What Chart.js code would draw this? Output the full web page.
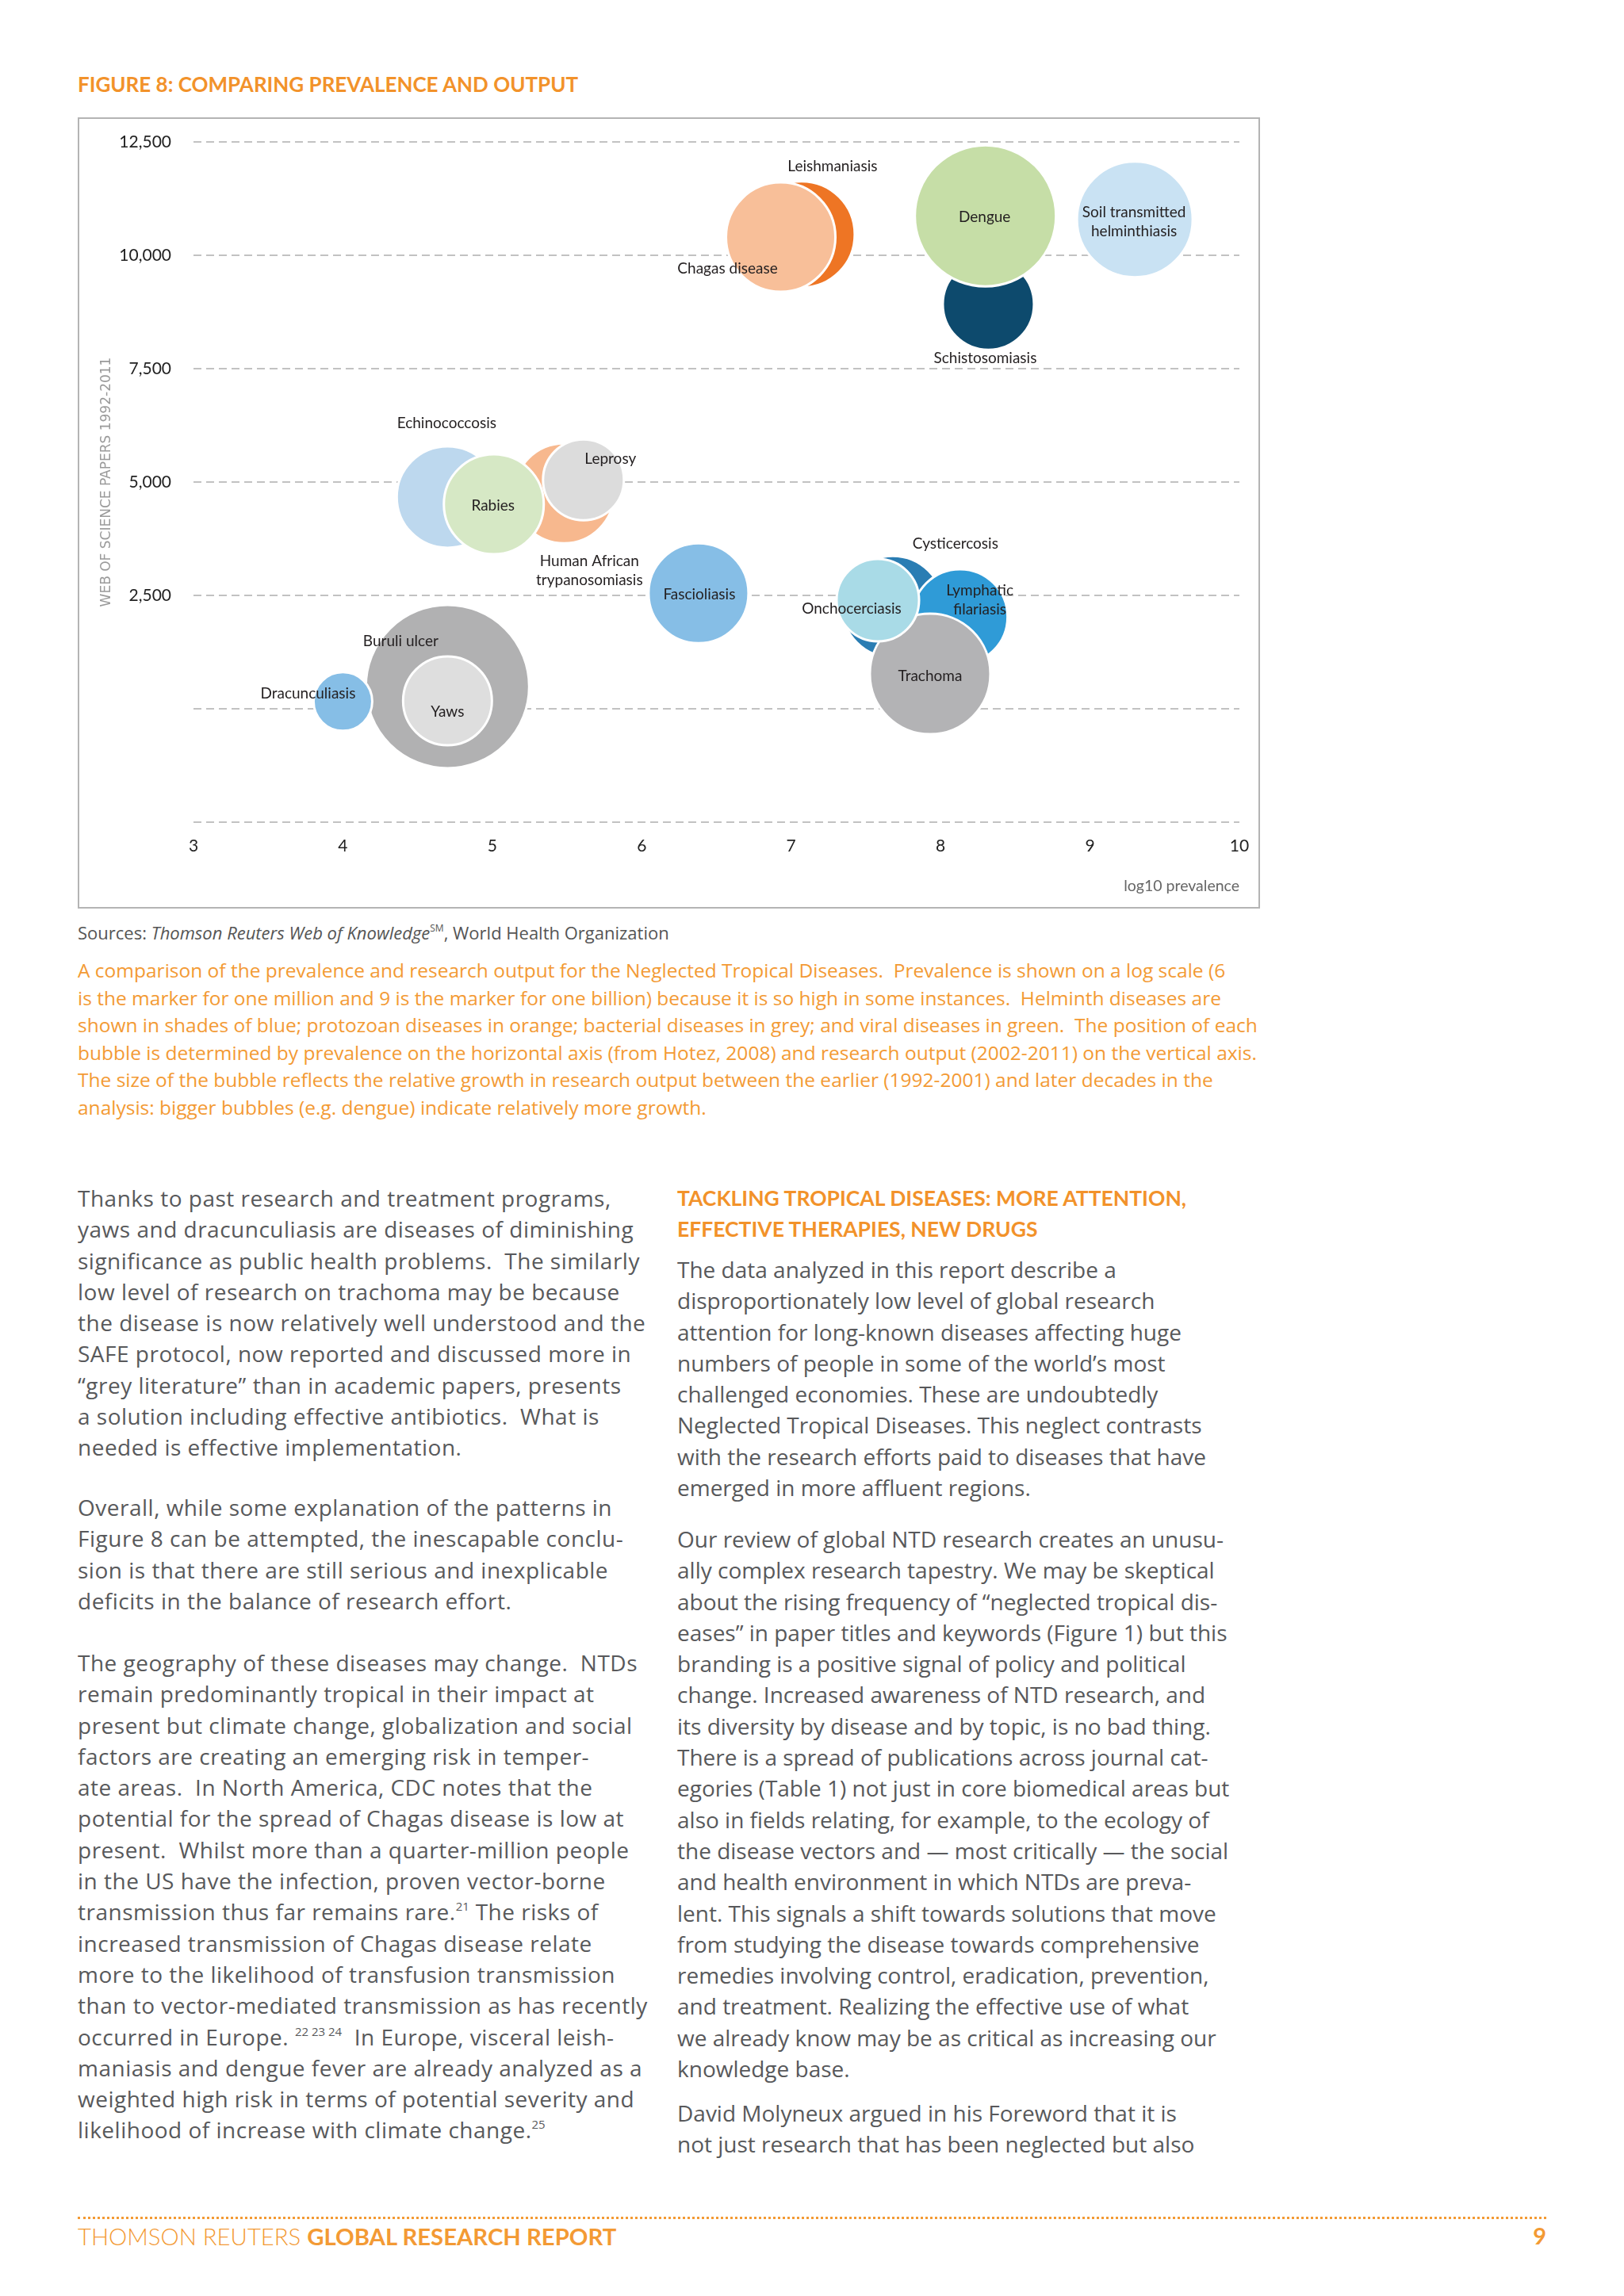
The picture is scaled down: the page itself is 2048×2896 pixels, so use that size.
<!DOCTYPE html>
<html><head><meta charset="utf-8">
<script src="https://cdn.jsdelivr.net/npm/chart.js@4.4.0/dist/chart.umd.min.js"></script>
<style>
html,body{margin:0;padding:0;background:#fff;}
body{width:2048px;height:2896px;position:relative;overflow:hidden;font-family:"Open Sans",Lato,sans-serif;}
.abs{position:absolute;white-space:nowrap;}
#title{left:98px;top:91px;font:700 26px/1.2 Lato;color:#F2922A;}
#box{left:98px;top:148px;width:1491px;height:998px;border:2px solid #b4b4b4;box-sizing:border-box;}
#wrap{left:98px;top:148px;width:1491px;height:998px;}
#sources{left:98px;top:1163px;font:400 22px/1.2 "Open Sans";color:#555;}
#caption{left:98px;top:1207px;font:400 24.5px/34.5px "Open Sans";color:#F39A34;}
.body{font:400 28px/39.3px "Open Sans";color:#58595b;}
.left{letter-spacing:0.5px;}
.hdr{font:700 26.5px/39px Lato;color:#F2922A;}
sup{font-size:15px;line-height:0;vertical-align:0;position:relative;top:-12px;letter-spacing:0;}
#sources sup{font-size:12px;top:-10px;}
#rule{left:98px;top:2796px;width:1852px;height:0;border-top:3px dotted #F39A34;}
#footer{left:98px;top:2803px;font:29.3px/1.2 Lato;color:#F39A34;}
#pnum{left:1900px;width:50px;text-align:right;top:2803px;font:700 29px/1.2 Lato;color:#F39A34;}
</style></head>
<body>
<div id="title" class="abs">FIGURE 8: COMPARING PREVALENCE AND OUTPUT</div>
<div id="box" class="abs"></div>
<div id="wrap" class="abs"><canvas id="c" width="1491" height="998"></canvas></div>
<div id="sources" class="abs">Sources: <i>Thomson Reuters Web of Knowledge</i><sup>SM</sup>, World Health Organization</div>
<div id="caption" class="abs">A comparison of the prevalence and research output for the Neglected Tropical Diseases.&nbsp; Prevalence is shown on a log scale (6<br>is the marker for one million and 9 is the marker for one billion) because it is so high in some instances.&nbsp; Helminth diseases are<br>shown in shades of blue; protozoan diseases in orange; bacterial diseases in grey; and viral diseases in green.&nbsp; The position of each<br>bubble is determined by prevalence on the horizontal axis (from Hotez, 2008) and research output (2002-2011) on the vertical axis.<br>The size of the bubble reflects the relative growth in research output between the earlier (1992-2001) and later decades in the<br>analysis: bigger bubbles (e.g. dengue) indicate relatively more growth.</div>

<div class="abs body left" style="left:98px;top:1492px;">Thanks to past research and treatment programs,<br>yaws and dracunculiasis are diseases of diminishing<br>significance as public health problems.&nbsp; The similarly<br>low level of research on trachoma may be because<br>the disease is now relatively well understood and the<br>SAFE protocol, now reported and discussed more in<br>“grey literature” than in academic papers, presents<br>a solution including effective antibiotics.&nbsp; What is<br>needed is effective implementation.</div>
<div class="abs body left" style="left:98px;top:1882px;">Overall, while some explanation of the patterns in<br>Figure 8 can be attempted, the inescapable conclu-<br>sion is that there are still serious and inexplicable<br>deficits in the balance of research effort.</div>
<div class="abs body left" style="left:98px;top:2078px;">The geography of these diseases may change.&nbsp; NTDs<br>remain predominantly tropical in their impact at<br>present but climate change, globalization and social<br>factors are creating an emerging risk in temper-<br>ate areas.&nbsp; In North America, CDC notes that the<br>potential for the spread of Chagas disease is low at<br>present.&nbsp; Whilst more than a quarter-million people<br>in the US have the infection, proven vector-borne<br>transmission thus far remains rare.<sup>21</sup> The risks of<br>increased transmission of Chagas disease relate<br>more to the likelihood of transfusion transmission<br>than to vector-mediated transmission as has recently<br>occurred in Europe. <sup>22 23 24</sup>&nbsp; In Europe, visceral leish-<br>maniasis and dengue fever are already analyzed as a<br>weighted high risk in terms of potential severity and<br>likelihood of increase with climate change.<sup>25</sup></div>

<div class="abs hdr" style="left:854px;top:1492px;">TACKLING TROPICAL DISEASES: MORE ATTENTION,<br>EFFECTIVE THERAPIES, NEW DRUGS</div>
<div class="abs body" style="left:854px;top:1582px;">The data analyzed in this report describe a<br>disproportionately low level of global research<br>attention for long-known diseases affecting huge<br>numbers of people in some of the world’s most<br>challenged economies. These are undoubtedly<br>Neglected Tropical Diseases. This neglect contrasts<br>with the research efforts paid to diseases that have<br>emerged in more affluent regions.</div>
<div class="abs body" style="left:854px;top:1922px;">Our review of global NTD research creates an unusu-<br>ally complex research tapestry. We may be skeptical<br>about the rising frequency of “neglected tropical dis-<br>eases” in paper titles and keywords (Figure 1) but this<br>branding is a positive signal of policy and political<br>change. Increased awareness of NTD research, and<br>its diversity by disease and by topic, is no bad thing.<br>There is a spread of publications across journal cat-<br>egories (Table 1) not just in core biomedical areas but<br>also in fields relating, for example, to the ecology of<br>the disease vectors and — most critically — the social<br>and health environment in which NTDs are preva-<br>lent. This signals a shift towards solutions that move<br>from studying the disease towards comprehensive<br>remedies involving control, eradication, prevention,<br>and treatment. Realizing the effective use of what<br>we already know may be as critical as increasing our<br>knowledge base.</div>
<div class="abs body" style="left:854px;top:2646px;">David Molyneux argued in his Foreword that it is<br>not just research that has been neglected but also</div>

<div id="rule" class="abs"></div>
<div id="footer" class="abs"><span style="font-weight:300">THOMSON REUTERS </span><b>GLOBAL RESEARCH REPORT</b></div>
<div id="pnum" class="abs">9</div>

<script>
// ---- data (drawing order: back to front) ----
const diseases = ['Leishmaniasis','Chagas disease','Schistosomiasis','Dengue','Soil transmitted helminthiasis',
  'Echinococcosis','Human African trypanosomiasis','Rabies','Leprosy','Fascioliasis',
  'Cysticercosis','Lymphatic filariasis','Trachoma','Onchocerciasis','Buruli ulcer','Yaws','Dracunculiasis'];
const log10Prevalence = [7.07, 6.93, 8.32, 8.30, 9.30, 4.70, 5.48, 5.01, 5.61, 6.38, 7.68, 8.13, 7.93, 7.58, 4.70, 4.70, 4.00];
const papers2002_2011 = [10460, 10400, 8920, 10870, 10790, 4670, 4750, 4510, 5050, 2550, 2250, 2030, 770, 2395, 490, 175, 160];
const relativeGrowth = [6.7, 6.9, 5.75, 8.9, 7.3, 6.4, 6.3, 6.3, 5.1, 6.3, 6.4, 6.0, 7.6, 5.2, 10.3, 5.6, 3.7];
const xTicks = [3, 4, 5, 6, 7, 8, 9, 10];
const yTickLabels = ['2,500', '5,000', '7,500', '10,000', '12,500'];

// ---- styles ----
const palette = {
  'Leishmaniasis':'#EE7524','Chagas disease':'#F8BF99','Schistosomiasis':'#0D4A6D','Dengue':'#C6DEA7',
  'Soil transmitted helminthiasis':'#C9E2F3','Echinococcosis':'#BDD8EE','Human African trypanosomiasis':'#F7B88E',
  'Rabies':'#D6E8C5','Leprosy':'#DCDCDC','Fascioliasis':'#86BEE6','Cysticercosis':'#2A7DB3',
  'Lymphatic filariasis':'#2F9BD7','Trachoma':'#B3B3B5','Onchocerciasis':'#A9DBE7','Buruli ulcer':'#B1B1B2',
  'Yaws':'#DEDEDE','Dracunculiasis':'#86BEE6'
};
const labelSpec = {
  'Leishmaniasis':{lines:['Leishmaniasis'],dx:39,dy:-86},
  'Chagas disease':{lines:['Chagas disease'],dx:-67,dy:40},
  'Schistosomiasis':{lines:['Schistosomiasis'],dx:-4,dy:68},
  'Dengue':{lines:['Dengue'],dx:-1,dy:2},
  'Soil transmitted helminthiasis':{lines:['Soil transmitted','helminthiasis'],dx:-1,dy:-9},
  'Echinococcosis':{lines:['Echinococcosis'],dx:-1,dy:-93},
  'Human African trypanosomiasis':{lines:['Human African','trypanosomiasis'],dx:32,dy:86},
  'Rabies':{lines:['Rabies'],dx:-1,dy:2},
  'Leprosy':{lines:['Leprosy'],dx:34,dy:-26},
  'Fascioliasis':{lines:['Fascioliasis'],dx:1,dy:2},
  'Cysticercosis':{lines:['Cysticercosis'],dx:79,dy:-79},
  'Lymphatic filariasis':{lines:['Lymphatic','filariasis'],dx:25,dy:-33},
  'Trachoma':{lines:['Trachoma'],dx:0,dy:3},
  'Onchocerciasis':{lines:['Onchocerciasis'],dx:-33,dy:11},
  'Buruli ulcer':{lines:['Buruli ulcer'],dx:-59,dy:-57},
  'Yaws':{lines:['Yaws'],dx:0,dy:14},
  'Dracunculiasis':{lines:['Dracunculiasis'],dx:-44,dy:-10}
};
const RADIUS_PER_UNIT = 10;

// keep the plot area fixed: don't let bubble radii pad the layout
const BC = Chart.BubbleController || Chart.registry.getController('bubble');
BC.prototype.getMaxOverflow = function () { return false; };

const points = diseases.map((d, i) => ({x: log10Prevalence[i], y: papers2002_2011[i], r: relativeGrowth[i] * RADIUS_PER_UNIT}));

const labelPlugin = {
  id: 'bubbleLabels',
  afterDatasetsDraw(chart) {
    const ctx = chart.ctx;
    const meta = chart.getDatasetMeta(0);
    ctx.save();
    ctx.font = '19px Lato';
    ctx.fillStyle = '#231f20';
    ctx.textAlign = 'center';
    ctx.textBaseline = 'middle';
    meta.data.forEach((el, i) => {
      const spec = labelSpec[diseases[i]];
      spec.lines.forEach((line, k) => {
        ctx.fillText(line, el.x + spec.dx, el.y + spec.dy + k * 24);
      });
    });
    ctx.restore();
  }
};

new Chart(document.getElementById('c'), {
  type: 'bubble',
  data: {
    datasets: [{
      data: points,
      backgroundColor: diseases.map(d => palette[d]),
      borderColor: '#ffffff',
      borderWidth: 3,
      clip: false
    }]
  },
  options: {
    responsive: false,
    animation: false,
    events: [],
    layout: {autoPadding: false, padding: {top: 31, right: 26, bottom: 0, left: 0}},
    plugins: {legend: {display: false}, tooltip: {enabled: false}},
    scales: {
      x: {
        type: 'linear', min: 3, max: 10,
        afterBuildTicks(s) { s.ticks = xTicks.map(v => ({value: v})); },
        afterFit(s) { s.height = 109; s.paddingLeft = 0; s.paddingRight = 0; },
        grid: {display: false, drawTicks: false},
        border: {display: false},
        ticks: {padding: 18, color: '#222', font: {family: 'Lato', size: 21}, callback: v => String(v)},
        title: {display: true, text: 'log10 prevalence', align: 'end', color: '#666',
                font: {family: 'Lato', size: 19.5}, padding: {top: 0, bottom: 17}}
      },
      y: {
        type: 'linear', min: -2500, max: 12500,
        ticks: {stepSize: 2500, padding: 28, color: '#222', font: {family: 'Lato', size: 21},
                callback: v => { const i = [2500, 5000, 7500, 10000, 12500].indexOf(v); return i >= 0 ? yTickLabels[i] : ''; }},
        afterFit(s) { s.width = 146; s.paddingTop = 0; s.paddingBottom = 0; },
        grid: {color: '#c2c2c2', lineWidth: 2, drawTicks: false},
        border: {display: false, dash: [10, 6]},
        title: {display: true, text: 'WEB OF SCIENCE PAPERS 1992-2011', color: '#9a9a9a',
                font: {family: 'DejaVu Sans', size: 17}, padding: {top: 26, bottom: 0}}
      }
    }
  },
  plugins: [labelPlugin]
});
</script>
</body></html>
